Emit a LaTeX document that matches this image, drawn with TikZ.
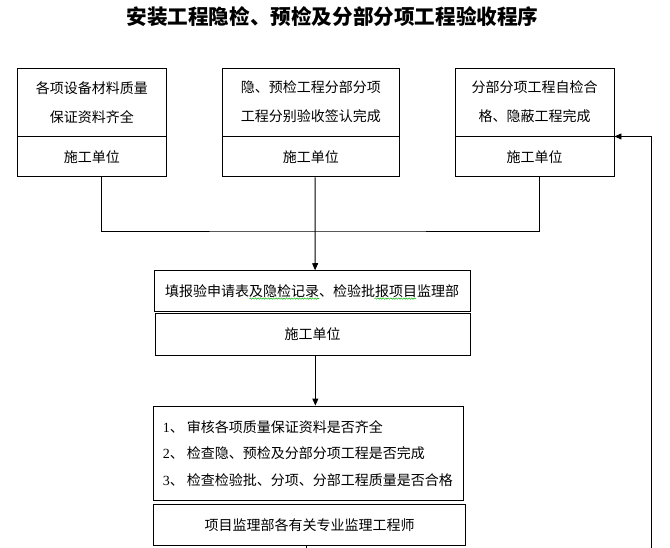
\documentclass[tikz,border=0pt]{standalone}
\usepackage{fontspec}
\setmainfont{Noto Sans CJK SC}
\newfontfamily\numfont{Liberation Serif}
\usetikzlibrary{positioning, arrows.meta, calc, decorations.pathmorphing}

\begin{document}
\begin{tikzpicture}[x=1pt, y=-1pt,
        check/.style={draw, rectangle, minimum height=67.7pt, align=center, inner sep=0pt, font=\fontsize{14pt}{29pt}\selectfont},
        unit/.style={draw, rectangle, minimum height=40pt, inner sep=0pt, font=\fontsize{14pt}{17pt}\selectfont},
        step box/.style={draw, rectangle, inner sep=0pt, font=\fontsize{14pt}{17pt}\selectfont},
        arrow/.style={-{Triangle[length=7pt, width=6pt]}},
        squiggle/.style={draw=green!70!black, line width=0.45pt, decorate, decoration={snake, amplitude=0.7pt, segment length=2.6pt}},
        line width=0.9pt
      ]
      \useasboundingbox (0,0) rectangle (670,548);

      \node[font=\fontsize{20.6pt}{24pt}\selectfont\bfseries] (title) at (332.5,16.5) {安装工程隐检、预检及分部分项工程验收程序};

      % top row
      \node[check, minimum width=148.3pt] (checkA) at (91.85,102.15) {各项设备材料质量\\保证资料齐全};
      \node[unit, minimum width=148.3pt, below=0pt of checkA] (unitA) {施工单位};

      \node[check, minimum width=176.3pt] (checkB) at (310.85,102.15) {隐、预检工程分部分项\\工程分别验收签认完成};
      \node[unit, minimum width=176.3pt, below=0pt of checkB] (unitB) {施工单位};

      \node[check, minimum width=159pt] (checkC) at (534.5,102.15) {分部分项工程自检合\\格、隐蔽工程完成};
      \node[unit, minimum width=159pt, below=0pt of checkC] (unitC) {施工单位};

      % submission
      \node[step box, minimum width=315.7pt, minimum height=41pt] (submit) at (312.15,291.2) {填报验申请表及隐检记录、检验批报项目监理部};
      \node[step box, minimum width=314.7pt, minimum height=41.6pt, below=1.2pt of submit, xshift=0.5pt] (unitD) {施工单位};
      \draw[squiggle] (249.4,298.6) -- (319,298.6);
      \draw[squiggle] (374.5,298.6) -- (416.2,298.6);

      % review
      \node[step box, text width=291pt, inner xsep=9.5pt, minimum height=94.7pt, align=left, font=\fontsize{14pt}{26.7pt}\selectfont] (review) at (308.3,453.35)
        {{\numfont 1}、\hspace{3pt}审核各项质量保证资料是否齐全\\
         {\numfont 2}、\hspace{3pt}检查隐、预检及分部分项工程是否完成\\
         {\numfont 3}、\hspace{3pt}检查检验批、分项、分部工程质量是否合格};
      \node[step box, minimum width=312.4pt, minimum height=40.6pt, below=3pt of review, xshift=1.2pt] (engineer) {项目监理部各有关专业监理工程师};

      % edges
      \coordinate (bus) at (315.1,231);
      \coordinate (tailE) at (306.3,548);
      \coordinate (back) at (651.3,548);
      \draw ($(unitA.south)+(9.2,0)$) |- (bus) -| ($(unitC.south)+(4.5,0)$);
      \draw[arrow] ($(unitB.south)+(4.2,0)$) -- (submit.north -| bus);
      \draw[arrow] ($(unitD.south)+(2.7,0)$) coordinate (legD) -- (legD |- review.north);
      \draw (engineer.south -| tailE) -- (tailE);
      \draw[arrow] (back) |- (checkC.south east);

\end{tikzpicture}
\end{document}
